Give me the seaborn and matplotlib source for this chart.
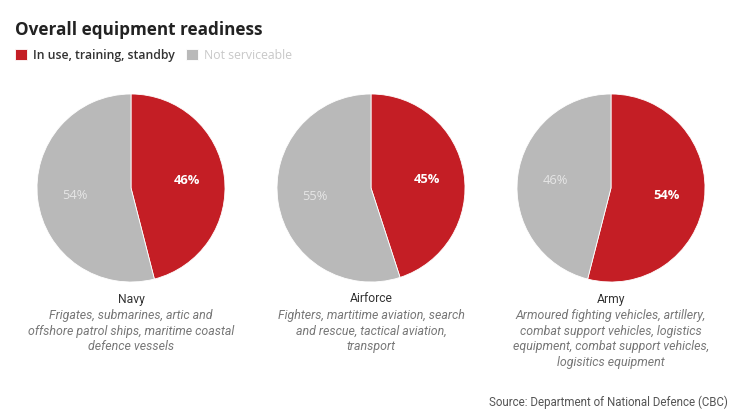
import matplotlib
matplotlib.use("Agg")
import matplotlib.pyplot as plt
import seaborn as sns

# ===============================
# Data
# ===============================
branches = ["Navy", "Airforce", "Army"]
ready_pct = [46, 45, 54]
not_serviceable_pct = [54, 55, 46]
descriptions = [
    "Frigates, submarines, artic and\noffshore patrol ships, maritime coastal\ndefence vessels",
    "Fighters, martitime aviation, search\nand rescue, tactical aviation,\ntransport",
    "Armoured fighting vehicles, artillery,\ncombat support vehicles, logistics\nequipment, combat support vehicles,\nlogisitics equipment",
]
legend_labels = ["In use, training, standby", "Not serviceable"]

# ===============================
# Style
# ===============================
sns.set_theme(style="white")
plt.rcParams["font.family"] = ["Open Sans", "DejaVu Sans"]
colors = sns.color_palette(["#c41e25", "#b9b9b9"])

W, H = 740, 416
fig = plt.figure(figsize=(W / 100, H / 100), dpi=100)

centers_x = [131, 371, 611]
center_y = 188
radius = 94

wedges_first = None
for i, name in enumerate(branches):
    cx = centers_x[i]
    ax = fig.add_axes([(cx - radius) / W, (H - center_y - radius) / H,
                       2 * radius / W, 2 * radius / H])
    wedges, texts, autotexts = ax.pie(
        [ready_pct[i], not_serviceable_pct[i]],
        colors=colors,
        startangle=90,
        counterclock=False,
        autopct="%d%%",
        pctdistance=0.6,
        wedgeprops={"edgecolor": "white", "linewidth": 0.6},
        textprops={"fontsize": 9.3},
    )
    autotexts[0].set_color("white")
    autotexts[0].set_fontweight("bold")
    autotexts[1].set_color("#e6e6e6")
    ax.set_xlim(-1, 1)
    ax.set_ylim(-1, 1)
    if wedges_first is None:
        wedges_first = wedges

    # branch name + description
    fig.text(cx / W, 1 - 299 / H, name, ha="center", va="center",
             fontsize=8.7, color="#333333", family=["Roboto", "DejaVu Sans"])
    fig.text(cx / W, 1 - 309.5 / H, descriptions[i], ha="center", va="top",
             fontsize=8.9, color="#777777", style="italic",
             linespacing=1.24, family=["Roboto", "DejaVu Sans"])

# ===============================
# Title, legend, source
# ===============================
fig.text(15 / W, 1 - 30 / H, "Overall equipment readiness", ha="left",
         va="center", fontsize=12.3, fontweight="bold", color="#222222")

leg = fig.legend(
    handles=wedges_first, labels=legend_labels,
    loc="upper left", bbox_to_anchor=(15 / W, 1 - 49 / H),
    ncol=2, frameon=False, handlelength=1.0, handleheight=1.0,
    handletextpad=0.5, columnspacing=0.85, borderpad=0, borderaxespad=0,
    prop={"size": 8.8},
)
leg_texts = leg.get_texts()
leg_texts[0].set_color("#333333")
leg_texts[0].set_fontweight("semibold")
leg_texts[1].set_color("#c8c8c8")

fig.text(728 / W, 1 - 402 / H, "Source: Department of National Defence (CBC)",
         ha="right", va="center", fontsize=8.3, color="#555555",
         family=["Roboto", "DejaVu Sans"])

fig.savefig("out.png", dpi=100)
